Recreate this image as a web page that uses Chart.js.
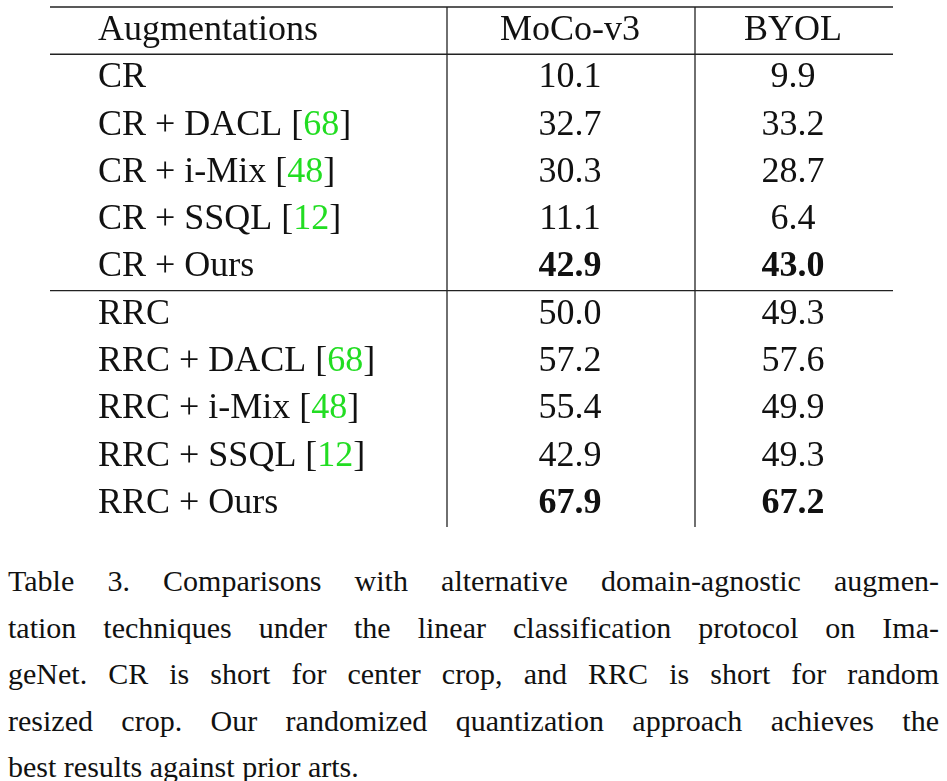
<!DOCTYPE html>
<html>
<head>
<meta charset="utf-8">
<script src="https://cdn.jsdelivr.net/npm/chart.js@4.4.0/dist/chart.umd.min.js"></script>
<style>
  html, body { margin: 0; padding: 0; background: #fff; }
  #wrap { width: 947px; height: 540px; position: relative; }
  #caption {
    font-family: "Liberation Serif", "DejaVu Serif", serif;
    font-size: 30px; line-height: 46.5px; color: #111;
    margin: 18px 8px 0 8px;
  }
  #caption div { text-align: justify; text-align-last: justify; white-space: nowrap; }
  #caption div.last { text-align-last: left; }
</style>
</head>
<body>
<div id="wrap"><canvas id="chartTable"></canvas></div>
<div id="caption">
  <div>Table 3. Comparisons with alternative domain-agnostic augmen-</div>
  <div>tation techniques under the linear classification protocol on Ima-</div>
  <div>geNet. CR is short for center crop, and RRC is short for random</div>
  <div>resized crop. Our randomized quantization approach achieves the</div>
  <div class="last">best results against prior arts.</div>
</div>
<script>
// Datos de la tabla
const headers = ["Augmentations", "MoCo-v3", "BYOL"];
const methods = ["CR", "CR + DACL", "CR + i-Mix", "CR + SSQL", "CR + Ours",
                 "RRC", "RRC + DACL", "RRC + i-Mix", "RRC + SSQL", "RRC + Ours"];
const refs = ["", "68", "48", "12", "", "", "68", "48", "12", ""];
const mocoV3 = [10.1, 32.7, 30.3, 11.1, 42.9, 50.0, 57.2, 55.4, 42.9, 67.9];
const byol = [9.9, 33.2, 28.7, 6.4, 43.0, 49.3, 57.6, 49.9, 49.3, 67.2];
const boldRows = [4, 9];

const rowLabels = ["header"].concat(methods);
const FONT = '"Liberation Serif", "DejaVu Serif", serif';

// Plugin que dibuja la tabla usando las escalas
const tablePlugin = {
    id: "tablePlugin",
    afterDraw(chart) {
        const ctx = chart.ctx;
        const x = chart.scales.x;
        const y = chart.scales.y;
        const step = y.getPixelForValue(1) - y.getPixelForValue(0);
        const top = y.getPixelForValue(0) - step / 2;
        const bottom = y.getPixelForValue(rowLabels.length - 1) + step / 2;
        ctx.save();
        ctx.strokeStyle = "#222";
        ctx.lineWidth = 1.3;
        const hline = (py) => {
            ctx.beginPath();
            ctx.moveTo(x.getPixelForValue(50), py);
            ctx.lineTo(x.getPixelForValue(893), py);
            ctx.stroke();
        };
        hline(top);
        hline(top + step);
        hline(top + step * 6);
        [447, 695].forEach((vx) => {
            ctx.beginPath();
            ctx.moveTo(x.getPixelForValue(vx), top);
            ctx.lineTo(x.getPixelForValue(vx), bottom);
            ctx.stroke();
        });

        ctx.textBaseline = "middle";
        ctx.fillStyle = "#111";
        const normal = "36px " + FONT;
        const bold = "bold 36px " + FONT;
        // encabezado
        const hy = y.getPixelForValue(0);
        ctx.font = normal;
        ctx.textAlign = "left";
        ctx.fillText(headers[0], x.getPixelForValue(98), hy);
        ctx.textAlign = "center";
        ctx.fillText(headers[1], x.getPixelForValue(570), hy);
        ctx.fillText(headers[2], x.getPixelForValue(793), hy);

        methods.forEach((m, i) => {
            const py = y.getPixelForValue(i + 1);
            ctx.font = normal;
            ctx.textAlign = "left";
            let px = x.getPixelForValue(98);
            ctx.fillStyle = "#111";
            if (refs[i]) {
                const a = m + " [";
                ctx.fillText(a, px, py);
                px += ctx.measureText(a).width;
                ctx.fillStyle = "#22dd22";
                ctx.fillText(refs[i], px, py);
                px += ctx.measureText(refs[i]).width;
                ctx.fillStyle = "#111";
                ctx.fillText("]", px, py);
            } else {
                ctx.fillText(m, px, py);
            }
            ctx.font = boldRows.includes(i) ? bold : normal;
            ctx.textAlign = "center";
            ctx.fillText(mocoV3[i].toFixed(1), x.getPixelForValue(570), py);
            ctx.fillText(byol[i].toFixed(1), x.getPixelForValue(793), py);
        });
        ctx.restore();
    }
};

new Chart(document.getElementById("chartTable").getContext("2d"), {
    type: "scatter",
    data: { datasets: [{ data: [] }] },
    options: {
        responsive: true,
        maintainAspectRatio: false,
        animation: false,
        layout: { padding: { top: 7, bottom: 13, left: 0, right: 0 } },
        plugins: { legend: { display: false }, tooltip: { enabled: false } },
        scales: {
            x: { type: "linear", min: 0, max: 947, display: false },
            y: { type: "category", labels: rowLabels, offset: true, display: false }
        }
    },
    plugins: [tablePlugin]
});
</script>
</body>
</html>
